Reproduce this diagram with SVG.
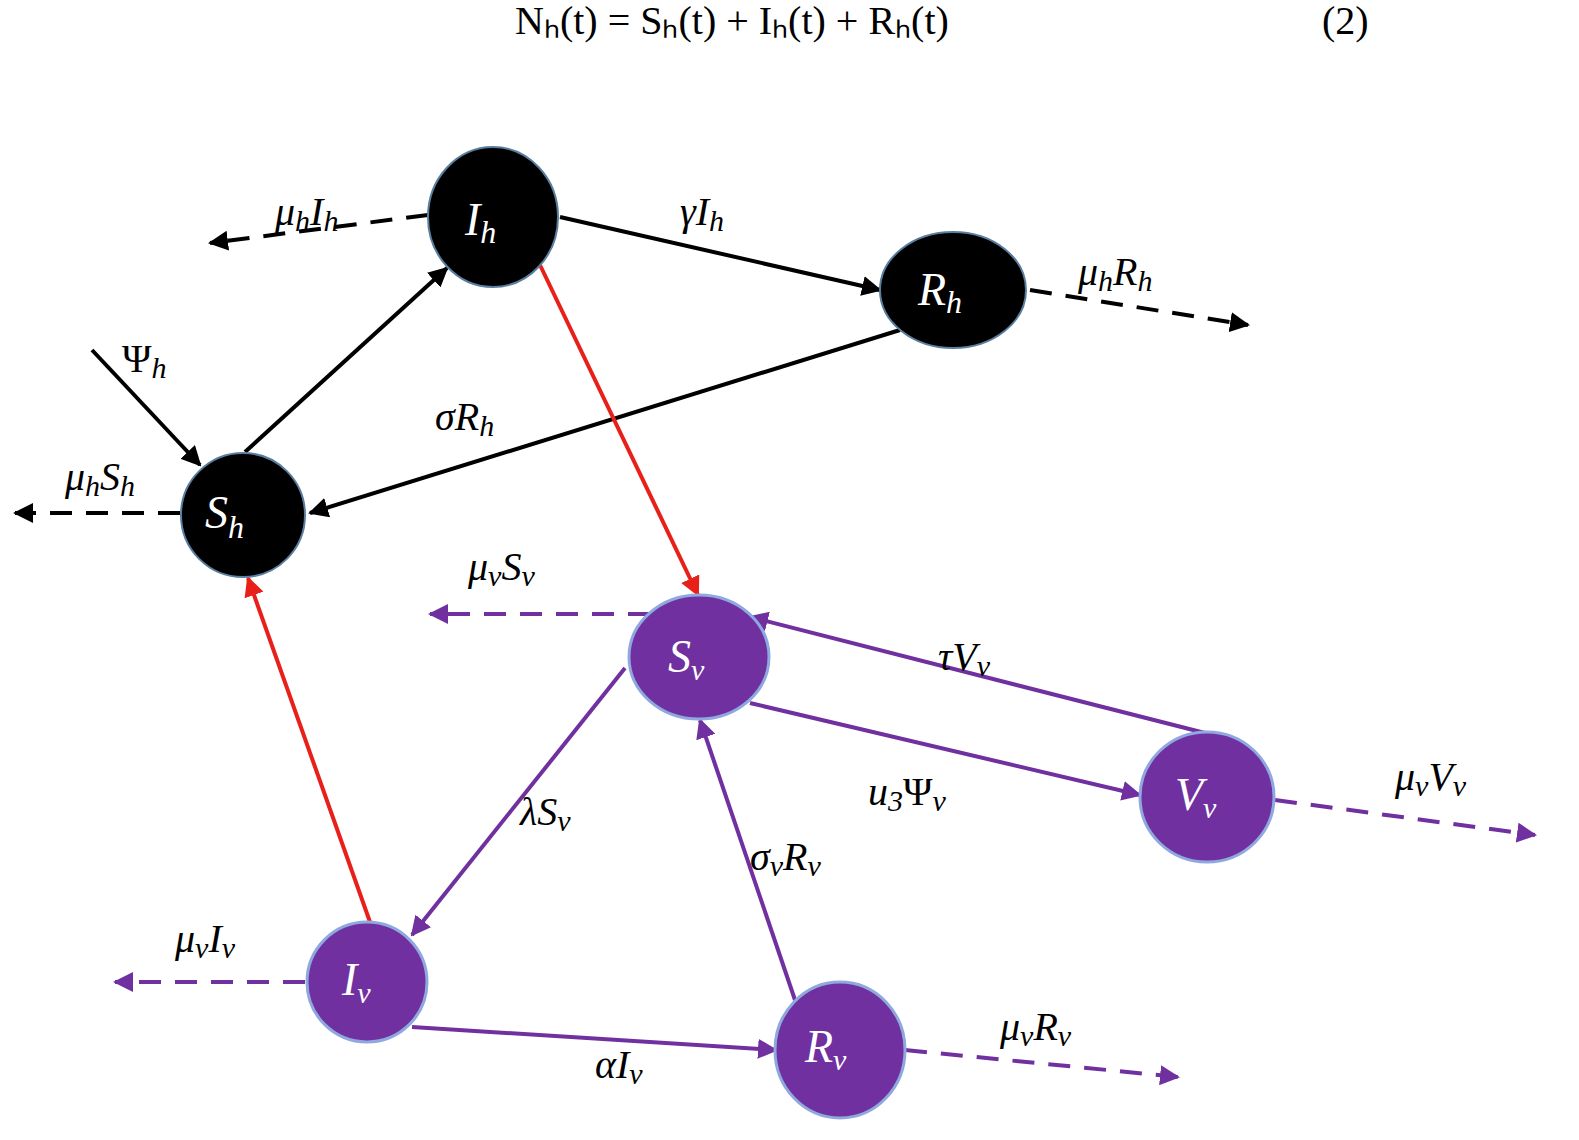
<svg xmlns="http://www.w3.org/2000/svg" width="1579" height="1140" viewBox="0 0 1579 1140">
<defs>
<marker id="ar" viewBox="0 0 10 10" refX="9" refY="5" markerWidth="5" markerHeight="5" orient="auto"><path d="M0,0L10,5L0,10z" fill="#e8201a"/></marker>
<marker id="ap" viewBox="0 0 10 10" refX="9" refY="5" markerWidth="5" markerHeight="5" orient="auto"><path d="M0,0L10,5L0,10z" fill="#7030a0"/></marker>
<marker id="ak" viewBox="0 0 10 10" refX="9" refY="5" markerWidth="5" markerHeight="5" orient="auto"><path d="M0,0L10,5L0,10z" fill="#000"/></marker>
</defs>
<style>
.b{stroke:#000;stroke-width:4;fill:none;marker-end:url(#ak)}
.r{stroke:#e8201a;stroke-width:4;fill:none;marker-end:url(#ar)}
.p{stroke:#7030a0;stroke-width:4;fill:none;marker-end:url(#ap)}
.d{stroke-dasharray:22 14}
.nb{fill:#000;stroke:#5a7ea0;stroke-width:2}
.np{fill:#7030a0;stroke:#8fa8e0;stroke-width:3}
text{font-family:"Liberation Serif",serif;font-style:italic;font-size:40px}
.w{fill:#fff;font-size:46px}
.t{fill:#000}
</style>
<rect width="1579" height="1140" fill="#fff"/>
<text x="515" y="34" font-size="30" style="font-style:normal">Nₕ(t) = Sₕ(t) + Iₕ(t) + Rₕ(t)</text>
<text x="1322" y="34" font-size="30" style="font-style:normal">(2)</text>
<g id="connectors">
<line class="b" x1="245" y1="452" x2="447" y2="268"/>
<line class="b" x1="560" y1="217" x2="880" y2="290"/>
<line class="b" x1="900" y1="330" x2="310" y2="513"/>
<line class="b" x1="92" y1="350" x2="200" y2="465"/>
<line class="b d" x1="180" y1="513" x2="15" y2="513"/>
<line class="b d" x1="428" y1="215" x2="210" y2="243"/>
<line class="b d" x1="1030" y1="290" x2="1248" y2="325"/>
<line class="r" x1="540" y1="265" x2="698" y2="595"/>
<line class="r" x1="370" y1="922" x2="248" y2="578"/>
<line class="p d" x1="650" y1="614" x2="430" y2="614"/>
<line class="p" x1="1205" y1="733" x2="750" y2="617"/>
<line class="p" x1="750" y1="703" x2="1140" y2="795"/>
<line class="p" x1="625" y1="668" x2="412" y2="935"/>
<line class="p" x1="795" y1="1000" x2="700" y2="720"/>
<line class="p" x1="412" y1="1027" x2="776" y2="1050"/>
<line class="p d" x1="1275" y1="800" x2="1535" y2="835"/>
<line class="p d" x1="305" y1="982" x2="115" y2="982"/>
<line class="p d" x1="905" y1="1050" x2="1178" y2="1077"/>
</g>
<g id="Ih"><ellipse class="nb" cx="493" cy="217" rx="65" ry="70"/><text class="w" x="465" y="235">I<tspan font-size="32" dy="8">h</tspan></text></g>
<g id="Rh"><ellipse class="nb" cx="953" cy="290" rx="73" ry="58"/><text class="w" x="918" y="305">R<tspan font-size="32" dy="8">h</tspan></text></g>
<g id="Sh"><ellipse class="nb" cx="243" cy="515" rx="62" ry="62"/><text class="w" x="205" y="528">S<tspan font-size="32" dy="10">h</tspan></text></g>
<g id="Sv"><ellipse class="np" cx="699" cy="657" rx="70" ry="62"/><text class="w" x="668" y="672" font-size="40">S<tspan font-size="30" dy="8">v</tspan></text></g>
<g id="Vv"><ellipse class="np" cx="1207" cy="797" rx="67" ry="65"/><text class="w" x="1175" y="810" font-size="40">V<tspan font-size="30" dy="8">v</tspan></text></g>
<g id="Iv"><ellipse class="np" cx="367" cy="982" rx="60" ry="60"/><text class="w" x="342" y="995" font-size="40">I<tspan font-size="30" dy="8">v</tspan></text></g>
<g id="Rv"><ellipse class="np" cx="840" cy="1050" rx="65" ry="68"/><text class="w" x="805" y="1062" font-size="40">R<tspan font-size="30" dy="8">v</tspan></text></g>
<g id="labels" class="t">
<text x="275" y="225">μ<tspan font-size="30" dy="6">h</tspan><tspan dy="-6">I</tspan><tspan font-size="30" dy="6">h</tspan></text>
<text x="680" y="225">γI<tspan font-size="30" dy="6">h</tspan></text>
<text x="1078" y="285">μ<tspan font-size="30" dy="6">h</tspan><tspan dy="-6">R</tspan><tspan font-size="30" dy="6">h</tspan></text>
<text x="122" y="372" style="font-style:normal">Ψ<tspan font-size="30" dy="6" style="font-style:italic">h</tspan></text>
<text x="435" y="430">σR<tspan font-size="30" dy="6">h</tspan></text>
<text x="65" y="490">μ<tspan font-size="30" dy="6">h</tspan><tspan dy="-6">S</tspan><tspan font-size="30" dy="6">h</tspan></text>
<text x="468" y="580">μ<tspan font-size="30" dy="6">v</tspan><tspan dy="-6">S</tspan><tspan font-size="30" dy="6">v</tspan></text>
<text x="938" y="670">τV<tspan font-size="30" dy="6">v</tspan></text>
<text x="868" y="805">u<tspan font-size="30" dy="6">3</tspan><tspan dy="-6" style="font-style:normal">Ψ</tspan><tspan font-size="30" dy="6">v</tspan></text>
<text x="1395" y="790">μ<tspan font-size="30" dy="6">v</tspan><tspan dy="-6">V</tspan><tspan font-size="30" dy="6">v</tspan></text>
<text x="520" y="825">λS<tspan font-size="30" dy="6">v</tspan></text>
<text x="750" y="870">σ<tspan font-size="30" dy="6">v</tspan><tspan dy="-6">R</tspan><tspan font-size="30" dy="6">v</tspan></text>
<text x="175" y="952">μ<tspan font-size="30" dy="6">v</tspan><tspan dy="-6">I</tspan><tspan font-size="30" dy="6">v</tspan></text>
<text x="1000" y="1040">μ<tspan font-size="30" dy="6">v</tspan><tspan dy="-6">R</tspan><tspan font-size="30" dy="6">v</tspan></text>
<text x="595" y="1078">αI<tspan font-size="30" dy="6">v</tspan></text>
</g>
</svg>
